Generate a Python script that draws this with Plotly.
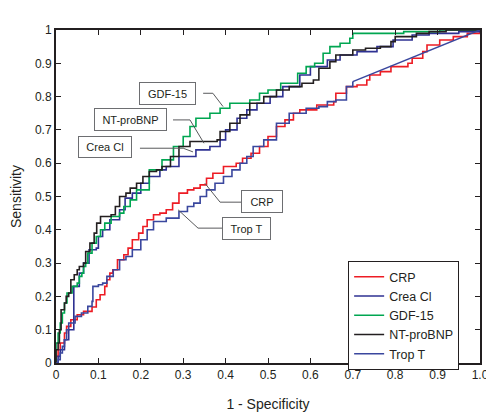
import plotly.graph_objects as go

# ---------------- data ----------------
crp_x = [0, 0, 0.005, 0.01, 0.02, 0.025, 0.035, 0.05, 0.065, 0.085, 0.095, 0.104, 0.115, 0.12,
         0.127, 0.134, 0.145, 0.16, 0.17, 0.18, 0.195, 0.205, 0.215, 0.23, 0.245, 0.26, 0.275,
         0.29, 0.31, 0.325, 0.34, 0.355, 0.37, 0.395, 0.425, 0.44, 0.46, 0.48, 0.50, 0.52, 0.54,
         0.56, 0.575, 0.615, 0.655, 0.66, 0.685, 0.71, 0.733, 0.74, 0.765, 0.79, 0.83, 0.84,
         0.865, 0.875, 0.905, 0.937, 0.97, 1.0]
crp_y = [0, 0.02, 0.04, 0.06, 0.09, 0.11, 0.13, 0.145, 0.155, 0.168, 0.19, 0.205, 0.23, 0.25,
         0.27, 0.28, 0.31, 0.325, 0.345, 0.37, 0.39, 0.41, 0.43, 0.445, 0.45, 0.46, 0.48,
         0.51, 0.52, 0.525, 0.535, 0.555, 0.57, 0.59, 0.60, 0.615, 0.63, 0.65, 0.68, 0.71, 0.73,
         0.75, 0.76, 0.775, 0.785, 0.81, 0.83, 0.835, 0.85, 0.865, 0.875, 0.89, 0.90, 0.915,
         0.935, 0.955, 0.97, 0.98, 0.99, 1.0]

crea_x = [0, 0.005, 0.01, 0.02, 0.03, 0.042, 0.042, 0.05, 0.055, 0.065, 0.078, 0.095, 0.1, 0.11,
          0.127, 0.15, 0.163, 0.18, 0.2, 0.22, 0.245, 0.26, 0.29, 0.33, 0.363, 0.387, 0.40,
          0.427, 0.45, 0.474, 0.505, 0.535, 0.575, 0.6, 0.64, 0.67, 0.71, 0.757, 0.795, 0.84,
          0.88, 0.95, 1.0]
crea_y = [0, 0.02, 0.04, 0.07, 0.10, 0.11, 0.23, 0.23, 0.27, 0.30, 0.34, 0.345, 0.38, 0.40,
          0.43, 0.46, 0.495, 0.51, 0.54, 0.56, 0.58, 0.59, 0.62, 0.64, 0.65, 0.67, 0.70,
          0.735, 0.76, 0.78, 0.80, 0.83, 0.865, 0.89, 0.91, 0.925, 0.935, 0.95, 0.97, 0.985,
          0.99, 0.995, 1.0]

gdf_x = [0, 0, 0.005, 0.01, 0.015, 0.02, 0.026, 0.038, 0.05, 0.055, 0.061, 0.065, 0.07, 0.075,
         0.085, 0.095, 0.105, 0.115, 0.13, 0.15, 0.16, 0.175, 0.19, 0.22, 0.25, 0.277, 0.30,
         0.316, 0.33, 0.363, 0.387, 0.41, 0.457, 0.48, 0.50, 0.53, 0.57, 0.59, 0.61, 0.63,
         0.646, 0.67, 0.693, 0.70, 0.76, 0.82, 0.905, 1.0]
gdf_y = [0, 0.06, 0.09, 0.12, 0.15, 0.18, 0.21, 0.23, 0.24, 0.26, 0.27, 0.29, 0.30, 0.33,
         0.36, 0.38, 0.40, 0.42, 0.44, 0.45, 0.47, 0.49, 0.52, 0.58, 0.61, 0.65, 0.68,
         0.71, 0.735, 0.75, 0.765, 0.78, 0.79, 0.81, 0.82, 0.84, 0.87, 0.89, 0.90, 0.93,
         0.95, 0.96, 0.975, 0.99, 0.99, 0.995, 1.0, 1.0]

nt_x = [0, 0, 0.005, 0.008, 0.012, 0.02, 0.024, 0.03, 0.035, 0.043, 0.05, 0.055, 0.065, 0.07,
        0.08, 0.09, 0.096, 0.105, 0.13, 0.14, 0.15, 0.165, 0.175, 0.19, 0.205, 0.22, 0.237,
        0.25, 0.27, 0.29, 0.316, 0.347, 0.38, 0.387, 0.41, 0.434, 0.457, 0.49, 0.52, 0.55,
        0.58, 0.607, 0.62, 0.646, 0.66, 0.70, 0.73, 0.765, 0.79, 0.80, 0.85, 0.88, 0.92, 1.0]
nt_y = [0, 0.04, 0.06, 0.10, 0.16, 0.18, 0.20, 0.21, 0.25, 0.265, 0.28, 0.29, 0.30, 0.335,
        0.36, 0.39, 0.42, 0.44, 0.445, 0.47, 0.50, 0.51, 0.525, 0.54, 0.56, 0.575, 0.58,
        0.59, 0.62, 0.65, 0.665, 0.665, 0.67, 0.695, 0.72, 0.745, 0.78, 0.80, 0.82, 0.83,
        0.84, 0.85, 0.885, 0.905, 0.925, 0.94, 0.945, 0.95, 0.965, 0.98, 0.99, 0.995, 1.0, 1.0]

trop_x = [0, 0.005, 0.01, 0.015, 0.02, 0.025, 0.03, 0.045, 0.06, 0.075, 0.085, 0.087, 0.1,
          0.11, 0.12, 0.135, 0.15, 0.165, 0.18, 0.2, 0.215, 0.23, 0.26, 0.29, 0.31, 0.325,
          0.34, 0.355, 0.375, 0.395, 0.415, 0.434, 0.45, 0.465, 0.49, 0.52, 0.55, 0.59, 0.62,
          0.64, 0.66, 0.685, 0.70, 1.0]
trop_y = [0, 0.01, 0.03, 0.05, 0.07, 0.10, 0.12, 0.14, 0.15, 0.17, 0.185, 0.23, 0.235,
          0.24, 0.26, 0.28, 0.31, 0.32, 0.34, 0.37, 0.40, 0.425, 0.435, 0.455, 0.47, 0.48,
          0.50, 0.52, 0.54, 0.56, 0.58, 0.60, 0.62, 0.65, 0.67, 0.72, 0.75, 0.765, 0.77,
          0.785, 0.79, 0.83, 0.845, 1.0]

series_names = ["CRP", "Crea Cl", "GDF-15", "NT-proBNP", "Trop T"]
tick_vals = [0, 0.1, 0.2, 0.3, 0.4, 0.5, 0.6, 0.7, 0.8, 0.9, 1.0]
x_tick_text = ["0", "0.1", "0.2", "0.3", "0.4", "0.5", "0.6", "0.7", "0.8", "0.9", "1.0"]
y_tick_text = ["0", "0.1", "0.2", "0.3", "0.4", "0.5", "0.6", "0.7", "0.8", "0.9", "1"]

# ---------------- styling ----------------
FONT = "Liberation Sans, Arial, sans-serif"
TXT = "#231f20"
colors = {"CRP": "#ed1c24", "Crea Cl": "#2e3192", "GDF-15": "#00a651",
          "NT-proBNP": "#231f20", "Trop T": "#3a479e"}
LW = 1.6

fig = go.Figure()
data = {"CRP": (crp_x, crp_y), "Crea Cl": (crea_x, crea_y), "GDF-15": (gdf_x, gdf_y),
        "NT-proBNP": (nt_x, nt_y)}
for name in series_names:
    if name == "Trop T":
        fig.add_trace(go.Scatter(x=trop_x[:-1], y=trop_y[:-1], mode="lines", name=name,
                                 legendgroup=name,
                                 line=dict(color=colors[name], width=LW, shape="hv")))
        fig.add_trace(go.Scatter(x=trop_x[-2:], y=trop_y[-2:], mode="lines", name=name,
                                 legendgroup=name, showlegend=False,
                                 line=dict(color=colors[name], width=LW)))
    else:
        xs, ys = data[name]
        fig.add_trace(go.Scatter(x=xs, y=ys, mode="lines", name=name, legendgroup=name,
                                 line=dict(color=colors[name], width=LW, shape="hv")))

# ---------------- callout labels ----------------
callouts = [
    ("GDF-15", 0.262, 0.81, 57, 23, [(0.347, 0.81), (0.37, 0.81), (0.394, 0.77)]),
    ("NT-proBNP", 0.175, 0.73, 73, 23, [(0.276, 0.73), (0.316, 0.73), (0.349, 0.66)]),
    ("Crea Cl", 0.116, 0.648, 54, 22, [(0.198, 0.645), (0.30, 0.645), (0.323, 0.634)]),
    ("CRP", 0.486, 0.486, 42, 23, [(0.439, 0.483), (0.387, 0.483), (0.351, 0.54)]),
    ("Trop T", 0.45, 0.405, 49, 23, [(0.392, 0.405), (0.335, 0.405), (0.288, 0.46)]),
]
for text, cx, cy, w, h, pts in callouts:
    fig.add_annotation(x=cx, y=cy, xref="x", yref="y", text=text, showarrow=False,
                       font=dict(family=FONT, size=11, color=TXT),
                       bgcolor="white", bordercolor="#6d6e71", borderwidth=1, borderpad=0,
                       width=w - 2, height=h - 2, align="center", valign="middle")
    path = "M " + " L ".join(f"{px},{py}" for px, py in pts)
    fig.add_shape(type="path", path=path, xref="x", yref="y",
                  line=dict(color="#58595b", width=1))

axis_common = dict(
    range=[0, 1], tickvals=tick_vals, ticks="inside", ticklen=5, tickwidth=1,
    tickcolor=TXT, showline=True, linecolor=TXT, linewidth=2, mirror="ticks",
    showgrid=False, zeroline=False, tickfont=dict(family=FONT, size=12, color=TXT),
    automargin=False,
)

# the page adds an 8px body margin, so the figure is sized/offset to compensate
fig.update_layout(
    width=486, height=407,
    margin=dict(l=48, r=14, t=22, b=52),
    paper_bgcolor="white", plot_bgcolor="white",
    font=dict(family=FONT, color=TXT),
    xaxis=dict(**axis_common, ticktext=x_tick_text,
               title=dict(text="1 - Specificity", font=dict(family=FONT, size=14, color=TXT),
                          standoff=18)),
    yaxis=dict(**axis_common, ticktext=y_tick_text,
               title=dict(text="Sensitivity", font=dict(family=FONT, size=14, color=TXT),
                          standoff=18)),
    legend=dict(x=0.689, y=0.306, xanchor="left", yanchor="top",
                bgcolor="white", bordercolor=TXT, borderwidth=1,
                font=dict(family=FONT, size=12.5, color=TXT),
                tracegroupgap=0, itemwidth=30, entrywidth=80),
    showlegend=True,
)

fig.write_html("out.html")
